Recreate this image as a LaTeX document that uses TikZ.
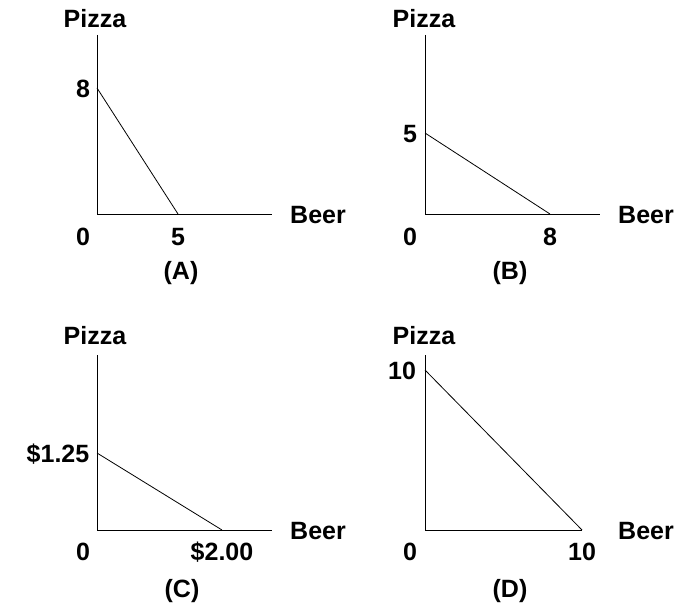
\documentclass[tikz,border=0pt]{standalone}
\usepackage{fontspec}
\setmainfont{Liberation Sans}
\begin{document}
\begin{tikzpicture}[x=1pt,y=-1pt,
 lbl/.style={font=\bfseries\fontsize{25}{28}\selectfont,inner sep=0pt},
 ax/.style={line width=0.8pt},
 cv/.style={line width=0.8pt}]
\useasboundingbox (0,0) rectangle (696,615);
% Panel A
\coordinate (at) at (97,35); \coordinate (ao) at (97,214); \coordinate (ar) at (272,214);
\coordinate (a1) at (97,88); \coordinate (a2) at (178,214);
\draw[ax] (at) -- (ao) -- (ar);
\draw[cv] (a1) -- (a2);
\node[lbl] (ap) at (95,19) {Pizza};
\node[lbl] (ab) at (318,215) {Beer};
\node[lbl] (a8) at (83,89) {8};
\node[lbl] (a0) at (83,237) {0};
\node[lbl] (a5) at (178,237) {5};
\node[lbl] (aA) at (181,273) {(A)};
% Panel B
\coordinate (bt) at (425,35); \coordinate (bo) at (425,214); \coordinate (br) at (600,214);
\coordinate (b1) at (425,133); \coordinate (b2) at (550,214);
\draw[ax] (bt) -- (bo) -- (br);
\draw[cv] (b1) -- (b2);
\node[lbl] (bp) at (424,19) {Pizza};
\node[lbl] (bb) at (646,215) {Beer};
\node[lbl] (b5) at (410,134) {5};
\node[lbl] (b0) at (410,237) {0};
\node[lbl] (b8) at (550,237) {8};
\node[lbl] (bB) at (510,273) {(B)};
% Panel C
\coordinate (ct) at (97,355); \coordinate (co) at (97,530); \coordinate (cr) at (272,530);
\coordinate (c1) at (97,453); \coordinate (c2) at (222,530);
\draw[ax] (ct) -- (co) -- (cr);
\draw[cv] (c1) -- (c2);
\node[lbl] (cp) at (95,336) {Pizza};
\node[lbl] (cb) at (318,531) {Beer};
\node[lbl] (c125) at (58,454) {\$1.25};
\node[lbl] (c0) at (83,552) {0};
\node[lbl] (c200) at (222,552) {\$2.00};
\node[lbl] (cC) at (182,591) {(C)};
% Panel D
\coordinate (dt) at (425,355); \coordinate (do) at (425,530); \coordinate (dr) at (582,530);
\coordinate (d1) at (425,370); \coordinate (d2) at (582,530);
\draw[ax] (dt) -- (do) -- (dr);
\draw[cv] (d1) -- (d2);
\node[lbl] (dp) at (424,336) {Pizza};
\node[lbl] (db) at (646,531) {Beer};
\node[lbl] (d10a) at (402,371) {10};
\node[lbl] (d0) at (410,552) {0};
\node[lbl] (d10b) at (582,552) {10};
\node[lbl] (dD) at (510,591) {(D)};
\end{tikzpicture}
\end{document}
